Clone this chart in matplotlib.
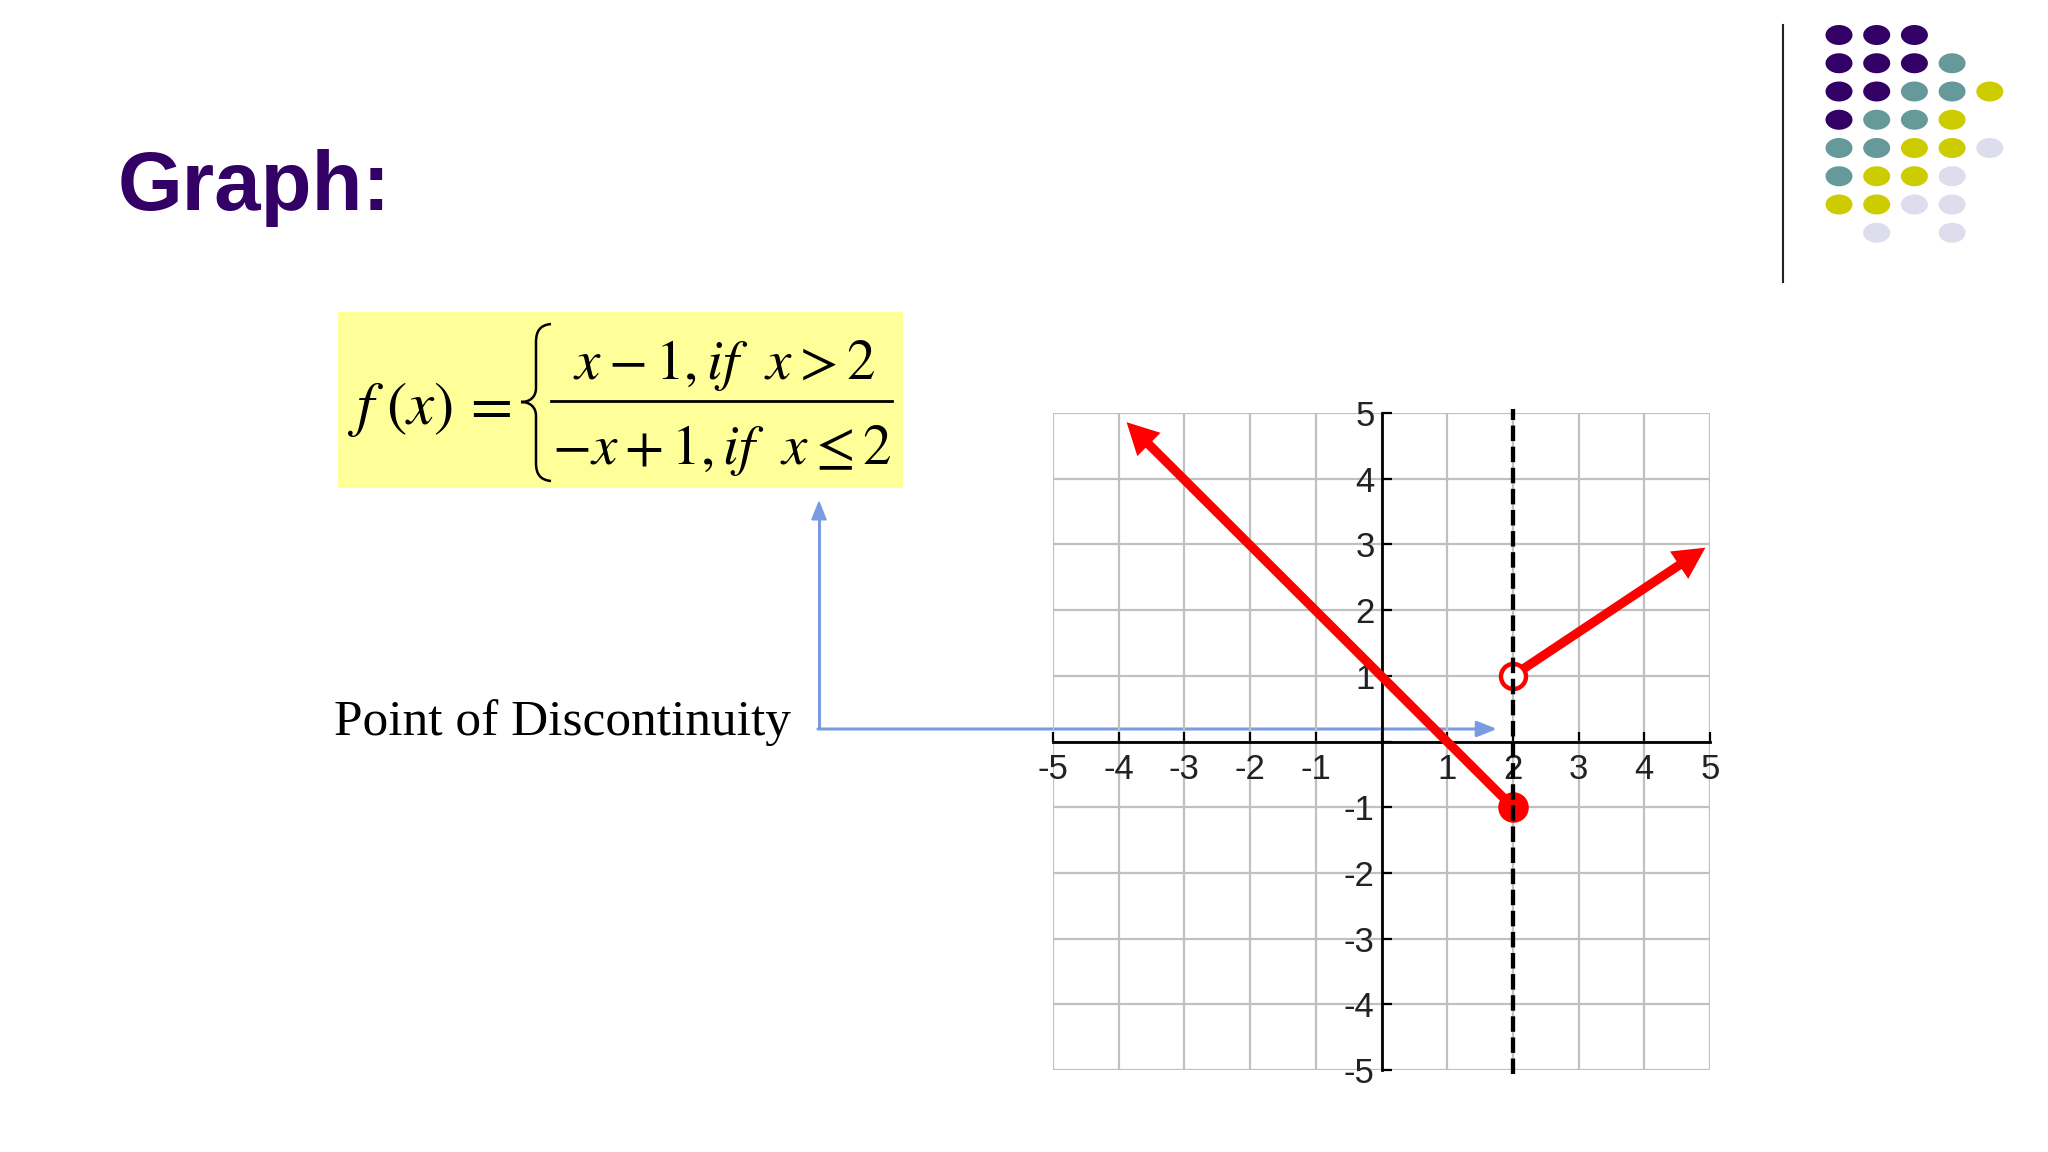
import numpy as np
import matplotlib.pyplot as plt
from matplotlib.patches import Ellipse, Rectangle, PathPatch
from matplotlib.path import Path

plt.rcParams['mathtext.fontset'] = 'stix'
plt.rcParams['font.family'] = ['Liberation Sans', 'DejaVu Sans']

# axis ticks of the grid
ticks = [-5, -4, -3, -2, -1, 0, 1, 2, 3, 4, 5]
tick_labels = ['' if t == 0 else str(t) for t in ticks]

# the two pieces as drawn on the slide (start point, arrow tip)
left_start = (2, -1)
left_tip = (-3.88, 4.86)
right_start = (2, 1)
right_tip = (4.93, 2.95)

closed_pt = (2, -1)
open_pt = (2, 1)
break_x = 2

# decoration dots in the corner (P purple, T teal, Y yellow, L lavender)
dot_rows = ["PPP", "PPPT", "PPTTY", "PTTY", "TTYYL", "TYYL", "YYLL", " L L"]
dot_colors = {'P': '#330066', 'T': '#669999', 'Y': '#CCCC00', 'L': '#DDDDEE'}

fig = plt.figure(figsize=(20.48, 11.52), dpi=100)

# full-figure pixel layer for the slide decoration
bg = fig.add_axes([0, 0, 1, 1])
bg.set_xlim(0, 2048)
bg.set_ylim(1152, 0)
bg.axis('off')

bg.text(118, 210, 'Graph:', fontsize=60, fontweight='bold', color='#330066',
        family='Liberation Sans', va='baseline')

bg.plot([1783, 1783], [25, 282], color='#222222', lw=1.5)
for i, row in enumerate(dot_rows):
    for j, c in enumerate(row):
        if c == ' ':
            continue
        bg.add_patch(Ellipse((1839 + 37.7 * j, 35 + 28.25 * i), 27, 20,
                             color=dot_colors[c], lw=0))

# formula box
bg.add_patch(Rectangle((338, 312), 565, 176, color='#FFFF99', lw=0))
bg.text(348, 424, r'$f\;(x)\,=$', fontsize=44, va='baseline', ha='left')
brace = Path([(551, 324), (541, 325), (536, 330), (536, 342),
              (536, 388),
              (536, 397), (530, 402), (521, 402),
              (530, 402), (536, 407), (536, 416),
              (536, 463),
              (536, 475), (541, 480), (551, 481)],
             [Path.MOVETO, Path.CURVE4, Path.CURVE4, Path.CURVE4,
              Path.LINETO,
              Path.CURVE4, Path.CURVE4, Path.CURVE4,
              Path.CURVE4, Path.CURVE4, Path.CURVE4,
              Path.LINETO,
              Path.CURVE4, Path.CURVE4, Path.CURVE4])
bg.add_patch(PathPatch(brace, fc='none', ec='black', lw=1.8))
bg.text(724, 379, r'$x-1,if\ \ x>2$', fontsize=41, va='baseline', ha='center')
bg.plot([551, 892], [401, 401], color='black', lw=2)
bg.text(722, 464, r'$-x+1,if\ \ x\leq 2$', fontsize=41, va='baseline', ha='center')

bg.text(334, 735, 'Point of Discontinuity', fontsize=37,
        family='Liberation Serif', va='baseline')

blue = '#7B9BE0'
bg.plot([819, 819], [729, 512], color=blue, lw=2.2, solid_capstyle='butt')
bg.annotate('', xy=(819, 500), xytext=(819, 516),
            arrowprops=dict(arrowstyle='-|>,head_length=0.8,head_width=0.32',
                            color=blue, lw=1.5, shrinkA=0, shrinkB=0, mutation_scale=15))
bg.annotate('', xy=(1497, 729), xytext=(818, 729),
            arrowprops=dict(arrowstyle='-|>,head_length=0.8,head_width=0.32',
                            color=blue, lw=2.2, shrinkA=0, shrinkB=0, mutation_scale=15))

# the coordinate grid
ax = fig.add_axes([1053 / 2048, 82 / 1152, 657 / 2048, 657 / 1152])
ax.set_facecolor('none')
ax.set_xlim(-5, 5)
ax.set_ylim(-5, 5)
ax.set_xticks(ticks)
ax.set_yticks(ticks)
ax.set_xticklabels(tick_labels)
ax.set_yticklabels(tick_labels)
ax.grid(True, color='#C0C0C0', lw=1.6)
ax.set_axisbelow(True)
for gl in ax.get_xgridlines() + ax.get_ygridlines():
    gl.set_clip_on(False)
for s in ['top', 'right']:
    ax.spines[s].set_visible(False)
for s in ['left', 'bottom']:
    ax.spines[s].set_position(('data', 0))
    ax.spines[s].set_linewidth(2)
ax.tick_params(direction='in', length=7, width=1.6, labelsize=25, pad=5,
               labelcolor='#222222')
ax.tick_params(axis='x', pad=8)

for (x0, y0), (x1, y1) in [(left_start, left_tip), (right_start, right_tip)]:
    ax.arrow(x0, y0, x1 - x0, y1 - y0, width=0.14, head_width=0.5,
             head_length=0.48, length_includes_head=True, color='red', lw=0,
             zorder=3)

ax.plot(*closed_pt, 'o', ms=21, color='red', zorder=4)
ax.plot(*open_pt, 'o', ms=18, mfc='white', mec='red', mew=3.2, zorder=4)
ax.axvline(break_x, ymin=-0.006, ymax=1.006, color='black', lw=3.1,
           ls=(0, (3.6, 1.3)), zorder=5, clip_on=False)

fig.savefig('out.png', dpi=100)
